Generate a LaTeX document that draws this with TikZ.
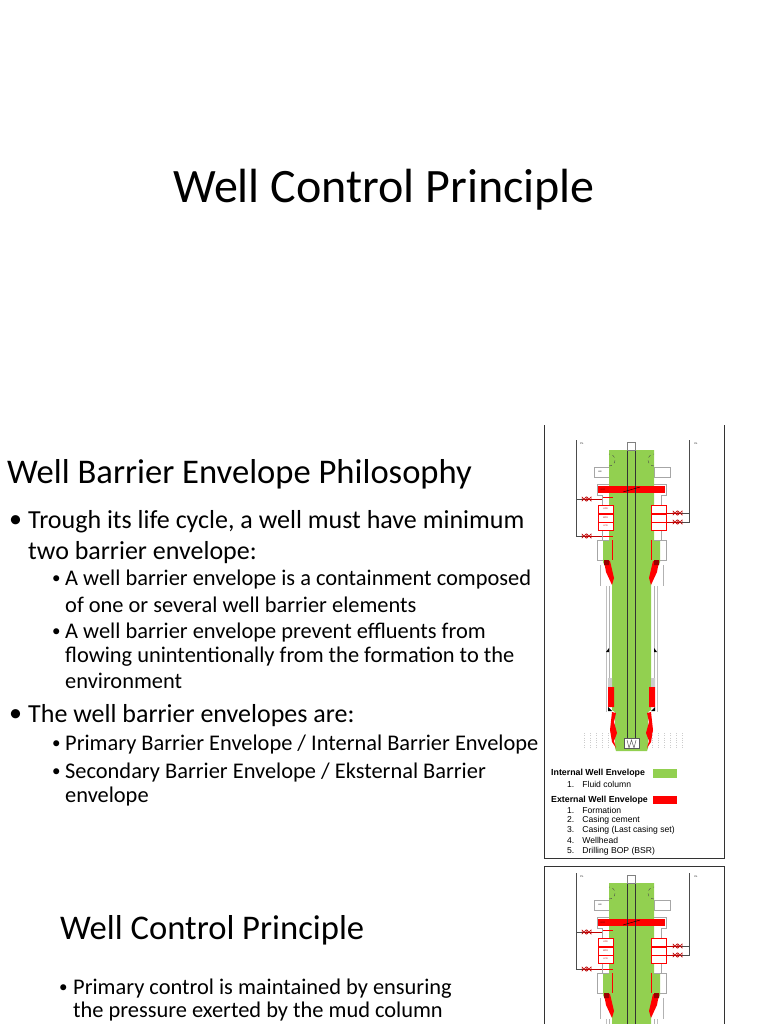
\documentclass[tikz,border=0pt]{standalone}
\usepackage{fontspec}
\setmainfont{Carlito}
\newfontfamily\arialf{Liberation Sans}
\definecolor{wgreen}{RGB}{146,208,80}
\definecolor{wred}{RGB}{255,0,0}
\definecolor{dred}{RGB}{192,0,0}
\begin{document}
\begin{tikzpicture}[x=1pt,y=-1pt,
  txt/.style={anchor=west,inner sep=0pt,font=\fontsize{26}{26}\selectfont},
  subtxt/.style={anchor=west,inner sep=0pt,font=\fontsize{22.4}{22.4}\selectfont},
  dot/.style={anchor=west,inner sep=0pt,font=\fontsize{17}{17}\selectfont},
  leg/.style={anchor=west,inner sep=0pt,font=\arialf\fontsize{8.6}{8.6}\selectfont},
  legb/.style={leg,font=\arialf\bfseries\fontsize{8.8}{8.8}\selectfont},
  outl/.style={draw=gray!70,line width=0.6pt},
  valve/.style={draw=dred,line width=0.5pt}]
\useasboundingbox (0,0) rectangle (768,1024);
\fill[white] (0,0) rectangle (768,1024);
\newcommand\wellpic{%
  \draw[gray!60!black,line width=0.4pt] (576,440) -- (576,536) -- (604,536);
  \draw[gray!60!black,line width=0.4pt] (576,499) -- (604,499);
  \draw[gray!60!black,line width=0.4pt] (689,440) -- (689,522) -- (666,522);
  \draw[gray!60!black,line width=0.4pt] (689,513) -- (666,513);
  \foreach \yy in {499,536}{\draw[dred,line width=0.6pt] (585,\yy)--(604,\yy);
    \draw[valve] (582,\yy-2)--(586,\yy+2)--(586,\yy-2)--(582,\yy+2)--cycle
                 (587,\yy-2)--(591,\yy+2)--(591,\yy-2)--(587,\yy+2)--cycle;}
  \foreach \yy in {513,522}{\draw[dred,line width=0.6pt] (651,\yy)--(679,\yy);
    \draw[valve] (673,\yy-2)--(677,\yy+2)--(677,\yy-2)--(673,\yy+2)--cycle
                 (678,\yy-2)--(682,\yy+2)--(682,\yy-2)--(678,\yy+2)--cycle;}
  \node[font=\arialf\fontsize{2.5}{2.5}\selectfont,inner sep=0pt] (pl) at (582,444) {PL};
  \node[font=\arialf\fontsize{2.5}{2.5}\selectfont,inner sep=0pt] (cl) at (696,444) {CL};
  \draw[outl,fill=white] (594,467) rectangle (609,477);
  \draw[outl,fill=white] (654,467) rectangle (670,477);
  \draw[outl,fill=white] (597,484) rectangle (666,495);
  \draw[outl,fill=white] (602,495) -- (602,540) -- (661,540) -- (661,495);
  \draw[outl] (597,540) -- (597,560) -- (666,560) -- (666,540) -- cycle;
  \fill[wgreen] (609,450) -- (654,450) -- (654,541) -- (660,541) -- (660,562)
     -- (651,581) -- (651,710) -- (648,712) -- (648,748) -- (647,751)
     -- (616,751) -- (615,748) -- (615,712) -- (612,710) -- (612,581)
     -- (603,562) -- (603,541) -- (609,541) -- cycle;
  \foreach \yy in {505,514,522}{
    \draw[wred,line width=0.5pt,fill=white] (598,\yy) rectangle (613,\yy+8);
    \draw[wred,line width=0.5pt,fill=white] (651,\yy) rectangle (666,\yy+8);}
  \node[font=\arialf\fontsize{2.2}{2.2}\selectfont,inner sep=0pt,text=dred] (upr) at (605.5,509) {UPR};
  \node[font=\arialf\fontsize{2.2}{2.2}\selectfont,inner sep=0pt,text=dred] (mpr) at (605.5,518) {MPR};
  \node[font=\arialf\fontsize{2.2}{2.2}\selectfont,inner sep=0pt,text=dred] (lpr) at (605.5,526) {LPR};
  \draw[wred,line width=0.4pt] (603,497) -- (613,497) (603,536) -- (613,536);
  \draw[wred,line width=0.4pt] (651,540) -- (651,560) (612,540) -- (612,560);
  \draw[gray!60!black,dashed,line width=0.4pt] (609,466) arc[start angle=90,end angle=-90,radius=6];
  \draw[gray!60!black,dashed,line width=0.4pt] (654,466) arc[start angle=90,end angle=270,radius=6];
  \node[font=\arialf\fontsize{2.2}{2.2}\selectfont,inner sep=0pt] (ann) at (600,472) {AN};
  \fill[wred] (604,561) -- (610,561) -- (614,578) -- (612,585) -- (606,572) -- cycle;
  \fill[wred] (659,561) -- (653,561) -- (649,578) -- (651,585) -- (657,572) -- cycle;
  \fill[dred!80!black] (604,560) rectangle (609,565) (654,560) rectangle (659,565);
  \draw[gray!60,line width=0.5pt] (600,565) -- (600,586) (663,565) -- (663,586);
  \draw[gray!50,line width=0.5pt] (606,586) -- (606,712) (657,586) -- (657,712);
  \draw[gray!60,line width=0.4pt] (609,586) -- (609,678) (654,586) -- (654,678);
  \fill[black] (606,652) -- (609,648) -- (609,652) -- cycle (657,652) -- (654,648) -- (654,652) -- cycle;
  \fill[gray!40] (608,678) rectangle (612,687) (651,678) rectangle (655,687);
  \fill[wred] (608,687) rectangle (614,707) (649,687) rectangle (655,707);
  \fill[black] (608,707) -- (612,711) -- (608,711) -- cycle (655,707) -- (651,711) -- (655,711) -- cycle;
  \fill[wred] (612,712) -- (616,713) -- (614,722) -- (617,733) -- (614,741) -- (616,748) -- (612,742) -- (610,730) -- cycle;
  \fill[wred] (651,712) -- (647,713) -- (649,722) -- (646,733) -- (649,741) -- (647,748) -- (651,742) -- (653,730) -- cycle;
  \foreach \xx in {584,590,...,612,652,658,...,686}{
    \draw[gray!40,dotted,line width=0.3pt] (\xx,733) -- (\xx,748);}
  \fill[wgreen] (627.5,446) rectangle (635,748);
  \draw[black!80,line width=0.6pt] (627.5,442) -- (627.5,748) (635,442) -- (635,748);
  \draw[gray,line width=0.4pt,fill=white] (627.5,442) rectangle (635,450);
  \fill[wred] (598,486) rectangle (665,493);
  \node[font=\arialf\fontsize{2.2}{2.2}\selectfont,inner sep=0pt,text=dred!60!black] (bsr) at (603,489.5) {BSR};
  \draw[black!80,line width=0.4pt] (627.5,486) -- (627.5,493) (635,486) -- (635,493);
  \draw[black,line width=0.4pt] (623,492) -- (640,487);
  \draw[gray!70!black,line width=0.5pt,fill=white] (624,738) -- (639,738) -- (639,748) -- (624,748) -- cycle;
  \draw[gray!70!black,line width=0.5pt] (627,740) -- (629,748) -- (631.5,740) -- (634,748) -- (636,740);
}
\wellpic
\begin{scope}
\clip (540,862) rectangle (730,1024);
\begin{scope}[shift={(0,433)}]\wellpic\end{scope}
\end{scope}
\draw[black!80,line width=0.7pt] (544,425) -- (544,858) -- (724,858) -- (724,425);
\draw[black!80,line width=0.7pt] (544,1030) -- (544,866) -- (724,866) -- (724,1030);
\node[legb] (l1) at (551,773) {Internal Well Envelope};
\fill[wgreen] (653,769) rectangle (677,778);
\node[leg] (l2) at (567,784) {1.\hspace{8pt}Fluid column};
\node[legb] (l3) at (551,800) {External Well Envelope};
\fill[wred] (653,796) rectangle (677,804);
\node[leg] (l4) at (567,810) {1.\hspace{8pt}Formation};
\node[leg] (l5) at (567,820) {2.\hspace{8pt}Casing cement};
\node[leg] (l6) at (567,830) {3.\hspace{8pt}Casing (Last casing set)};
\node[leg] (l7) at (567,840.5) {4.\hspace{8pt}Wellhead};
\node[leg] (l8) at (567,851) {5.\hspace{8pt}Drilling BOP (BSR)};
\node[inner sep=0pt,font=\fontsize{48}{48}\selectfont] (title) at (384,190) {Well Control Principle};
\node[anchor=west,inner sep=0pt,font=\fontsize{34.6}{34.6}\selectfont] (h1) at (7,474) {Well Barrier Envelope Philosophy};
\node[txt] (b1) at (9,522) {•};
\node[txt] (t1) at (28,522) {Trough its life cycle, a well must have minimum};
\node[txt] (t1b) at (28,553) {two barrier envelope:};
\node[dot] (s1) at (52,580) {•};
\node[subtxt] (s1t) at (65,580) {A well barrier envelope is a containment composed};
\node[subtxt] (s1b) at (65,605) {of one or several well barrier elements};
\node[dot] (s2) at (52,633) {•};
\node[subtxt] (s2t) at (65,633) {A well barrier envelope prevent effluents from};
\node[subtxt] (s2b) at (65,657) {flowing unintentionally from the formation to the};
\node[subtxt] (s2c) at (65,681) {environment};
\node[txt] (b2) at (9,716) {•};
\node[txt] (t2) at (28,716) {The well barrier envelopes are:};
\node[dot] (s3) at (52,745) {•};
\node[subtxt] (s3t) at (65,745) {Primary Barrier Envelope / Internal Barrier Envelope};
\node[dot] (s4) at (52,773) {•};
\node[subtxt] (s4t) at (65,773) {Secondary Barrier Envelope / Eksternal Barrier};
\node[subtxt] (s4b) at (65,797) {envelope};
\node[anchor=west,inner sep=0pt,font=\fontsize{34.6}{34.6}\selectfont] (h2) at (60,930) {Well Control Principle};
\node[dot] (b3) at (59,989) {•};
\node[subtxt] (b3t) at (73,989) {Primary control is maintained by ensuring};
\node[subtxt] (b3b) at (73,1012) {the pressure exerted by the mud column};
\end{tikzpicture}
\end{document}
